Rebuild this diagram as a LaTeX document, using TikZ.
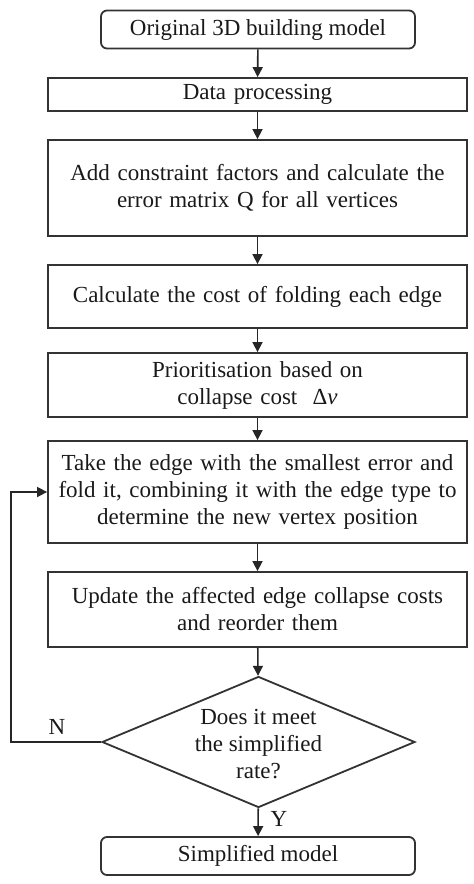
\documentclass[tikz,border=0pt]{standalone}
\usepackage{fontspec}
\setmainfont{Liberation Serif}
\usetikzlibrary{arrows.meta,shapes.geometric}
\begin{document}
\begin{tikzpicture}[x=1pt,y=-1pt,
  every node/.style={font=\fontsize{23}{27}\selectfont, text=black!90},
  box/.style={draw=black!80, line width=1.8pt, minimum width=419pt, inner sep=0pt, align=center, text width=400pt},
  term/.style={draw=black!80, line width=1.8pt, rounded corners=6pt, minimum width=314pt, minimum height=38pt, inner sep=0pt, align=center},
  arr/.style={draw=black!85, line width=1.6pt, -{Triangle[width=10pt,length=10pt]}},
  lbl/.style={inner sep=0pt}]
\useasboundingbox (0,0) rectangle (474,884);
\node[term] (start) at (258,29.5) {Original 3D building model};
\node[box, minimum height=33pt] (data) at (257.5,94.5) {Data processing};
\node[box, minimum height=96pt] (add) at (257.5,188) {Add constraint factors and calculate the\\error matrix Q for all vertices};
\node[box, minimum height=63pt] (calc) at (257.5,296.5) {Calculate the cost of folding each edge};
\node[box, minimum height=64pt] (prior) at (257.5,385) {Prioritisation based on\\collapse cost~ Δ\textit{ν}};
\node[box, minimum height=102pt] (take) at (257.5,492) {Take the edge with the smallest error and\\fold it, combining it with the edge type to\\determine the new vertex position};
\node[box, minimum height=75pt] (upd) at (257.5,609.5) {Update the affected edge collapse costs\\and reorder them};
\node[draw=black!80, line width=1.8pt, shape=diamond, minimum width=313pt, minimum height=131pt, inner sep=0pt] (dec) at (258.5,742) {};
\node[lbl, align=center] (dectext) at (258.5,744) {Does it meet\\the simplified\\rate?};
\node[term] (end) at (258,856) {Simplified model};
\draw[arr] (start) -- (data);
\draw[arr] (data) -- (add);
\draw[arr] (add) -- (calc);
\draw[arr] (calc) -- (prior);
\draw[arr] (prior) -- (take);
\draw[arr] (take) -- (upd);
\draw[arr] (upd) -- (dec);
\draw[arr] (dec) -- (end);
\draw[arr] (dec.west) -- ++(-90,0) coordinate (fbcorner) |- (take.west);
\node[lbl] (nlab) at (57,727) {N};
\node[lbl] (ylab) at (279,819) {Y};
\end{tikzpicture}
\end{document}
